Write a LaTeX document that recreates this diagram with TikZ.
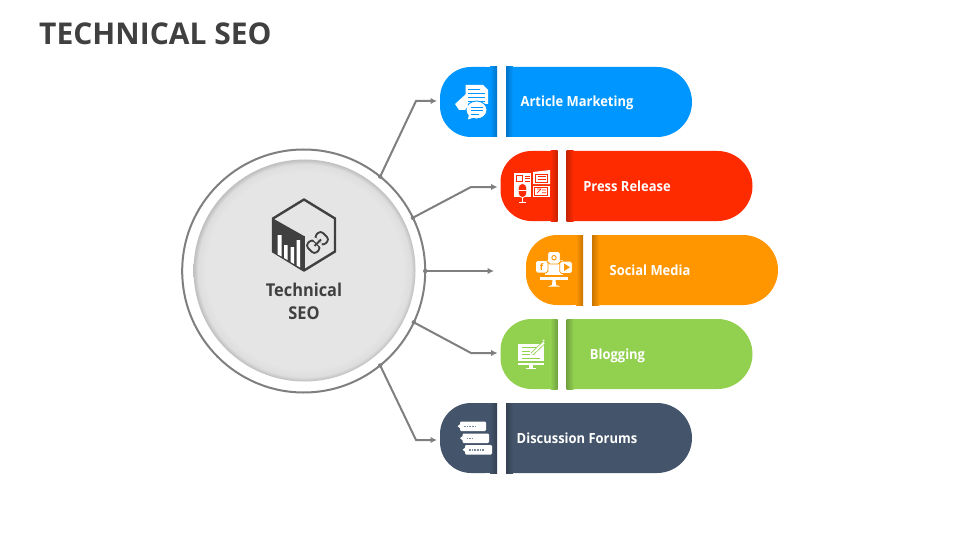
\documentclass[tikz,border=0pt]{standalone}
\usepackage{fontspec}
\setmainfont{Open Sans}
\newfontfamily\semib[FakeStretch=0.925]{Open Sans}
\usetikzlibrary{arrows.meta,calc}
\definecolor{cblue}{HTML}{0096FF}
\definecolor{cred}{HTML}{FF2B00}
\definecolor{corange}{HTML}{FF9600}
\definecolor{cgreen}{HTML}{92D050}
\definecolor{cslate}{HTML}{44546A}
\definecolor{ink}{HTML}{404040}
\definecolor{wire}{HTML}{7F7F7F}
\pgfdeclareradialshading{hubfill}{\pgfpoint{0bp}{0bp}}{%
  color(0bp)=(black!10); color(22bp)=(black!10); color(24bp)=(black!13); color(24.7bp)=(black!22); color(25bp)=(black!25); color(50bp)=(black!25)}
\tikzset{
  x=1pt,y=-1pt,
  anchorbox/.style={minimum width=#1,minimum height=70,inner sep=0,outer sep=0},
  label/.style={text=white,font=\semib\bfseries\fontsize{14}{17}\selectfont,inner sep=0,anchor=base},
  wireline/.style={draw=wire,line width=2,shorten >=3,-{Latex[length=6.5,width=6.5]}},
  dot/.style={fill=wire,draw=none},
  hubtext/.style={text=ink,font=\semib\bfseries\fontsize{17.7}{23}\selectfont,align=center,inner sep=0},
  wf/.style={fill=white,draw=none},
}
% #1 colour, #2 left, #3 top, #4 name, #5 label x, #6 label
\newcommand{\pillrow}[6]{%
  \pgfmathsetmacro{\xa}{#2+57}\pgfmathsetmacro{\xb}{#2+66}\pgfmathsetmacro{\xc}{#2+252}%
  \pgfmathsetmacro{\yb}{#3+70}%
  \fill[#1,rounded corners=35] (\xb-40,#3) -- (\xc,#3) -- (\xc,\yb) -- (\xb-40,\yb) -- cycle;
  \fill[white] (\xb-41,#3-1) rectangle (\xb,\yb+1);
  \fill[#1,rounded corners=31] (#2,#3) -- (\xa+20,#3) -- (\xa+20,\yb) -- (#2,\yb) -- cycle;
  \fill[white] (\xa,#3-1) rectangle (\xb,\yb+1);
  \shade[left color=#1,right color=#1!78!black] (\xa-7,#3) rectangle (\xa,\yb);
  \shade[left color=#1!78!black,right color=#1] (\xb,#3) rectangle (\xb+7,\yb);
  \node[anchorbox=57,anchor=north west] (#4) at (#2,#3) {};
  \node[label] (#4t) at (#5,#3+40) {#6};
}
\begin{document}
\begin{tikzpicture}
\useasboundingbox (0,0) rectangle (960,540);
\fill[white] (0,0) rectangle (960,540);
\node[anchor=west,text=ink,font=\bfseries\fontsize{30}{36}\selectfont,inner sep=0] (title) at (39,34) {TECHNICAL SEO};

% hub
\node[circle,minimum size=243,draw=wire,line width=2,inner sep=0,outer sep=0] (hub) at (303.7,271) {};
\node[circle,minimum size=222,shading=hubfill,inner sep=0] (core) at (304.5,270.5) {};
\node[hubtext] (hubt) at (304,301.5) {Technical\\SEO};

% cube icon
\coordinate (cT) at (304,199.5);\coordinate (cUR) at (335,218.5);\coordinate (cLR) at (335,251.5);
\coordinate (cB) at (304,270.5);\coordinate (cLL) at (273,251.5);\coordinate (cUL) at (273,218.5);\coordinate (cC) at (304,236);
\fill[ink] (cUL) -- (cC) -- (cB) -- (cLL) -- cycle;
\draw[ink,line width=2.4,line join=round] (cT) -- (cUR) -- (cLR) -- (cB) -- (cLL) -- (cUL) -- cycle;
\draw[ink,line width=2] (cC) -- (cB);
\fill[white] (277.7,235) -- (281.7,235) -- (281.7,256.5) -- (277.7,254.5) -- cycle;
\fill[white] (284,245) -- (287.5,245) -- (287.5,260) -- (284,258) -- cycle;
\fill[white] (290.7,247) -- (294,247) -- (294,264) -- (290.7,262) -- cycle;
\fill[white] (296.7,240) -- (300,240) -- (300,267.5) -- (296.7,265.5) -- cycle;
\draw[ink,line width=1.8,rounded corners=3.6] (320.5,230.5) -- (329.5,239.5) -- (323,246) -- (314,237) -- cycle;
\draw[ink,line width=1.8,rounded corners=3.6] (312,239) -- (321,248) -- (314.5,254.5) -- (305.5,245.5) -- cycle;
\fill[black!10] (315.8,237.5) -- (322.2,244) -- (319.8,246.4) -- (313.4,239.9) -- cycle;
\draw[ink,line width=1.8] (321,239.5) -- (314.5,246);

% rows
\pillrow{cblue}{440}{67}{pa}{577}{Article Marketing}
\pillrow{cred}{500.5}{151}{pb}{627}{Press Release}
\pillrow{corange}{526}{235}{pc}{650}{Social Media}
\pillrow{cgreen}{500.5}{319}{pd}{617.5}{Blogging}
\pillrow{cslate}{440}{403}{pe}{577}{Discussion Forums}

% connectors
\coordinate (ba) at (416,101);\coordinate (bb) at (471,187);\coordinate (bd) at (471,353);\coordinate (be) at (416,440);
\coordinate (freec) at (494,271);
\draw[wireline] (hub.51) -- (ba) -- (pa.west |- ba);
\draw[wireline] (hub.26) -- (bb) -- (pb.west |- bb);
\draw[wireline,shorten >=0] (hub.0) -- (freec);
\draw[wireline] (hub.-25) -- (bd) -- (pd.west |- bd);
\draw[wireline] (hub.-51) -- (be) -- (pe.west |- be);
\foreach \a in {51,26,0,-25,-51} \fill[dot] (hub.\a) circle[radius=2.2];

% article icon
\fill[wf] (465.5,85) -- (483,85) -- (488,90) -- (488,104) -- (465.5,104) -- cycle;
\draw[cblue,line width=.9] (468,89) -- (480,89) (468,93) -- (485,93) (468,97) -- (485,97) (468,101) -- (485,101);
\draw[wf,draw=cblue,line width=.9] (476.5,110) ellipse[x radius=10.5,y radius=9];
\fill[wf] (469,114) -- (468,119.5) -- (475,117) -- cycle;
\draw[cblue,line width=.9] (471,107) -- (483,107) (471,110.5) -- (483,110.5) (471,114) -- (479,114);
\fill[wf,line join=round] (455,104) -- (466,94) -- (468,106) -- (465,110) -- (459,110) -- cycle;

% press icon
\fill[wf] (514,173) rectangle (531,197);
\fill[wf] (533,172) -- (550,170) -- (550,184) -- (533,184) -- cycle;
\fill[wf] (532.5,185.5) rectangle (550,197);
\draw[cred,line width=.7] (516.5,175.5) rectangle (522.5,181.5) (524.5,176) -- (529.5,176) (524.5,178.5) -- (529.5,178.5) (524.5,181) -- (529.5,181)
 (535.5,174.5) rectangle (547.5,182) (537.5,176.8) -- (545.5,176.8) (537.5,179.5) -- (545.5,179.5)
 (534.7,187.5) rectangle (547.8,195);
\draw[cred,line width=.7] (537,193) -- (541,189) (537,189) -- (541,189) (542,190) -- (546,190) (542,192.8) -- (546,192.8);
\draw[white,fill=cred,line width=.8,rounded corners=4] (518.3,183.5) rectangle (526.7,197.5);
\draw[white,line width=.8] (522.5,197.5) -- (522.5,202) (519,202) -- (526,202);
\draw[white,line width=.6] (518.5,190) -- (526.5,190);

% social icon
\fill[wf] (545,260) rectangle (563,275);
\fill[wf] (540,277) rectangle (568,280);
\fill[wf] (552.5,280) -- (555.5,280) -- (556,285) -- (560,286.5) -- (548,286.5) -- (552,285) -- cycle;
\foreach \cx/\cy in {541.7/266.7,554/257.7,566/267.3}
  \draw[wf,draw=corange,line width=.8,rounded corners=1.8] (\cx-6.2,\cy-6.2) rectangle (\cx+6.2,\cy+6.2);
\draw[corange,line width=.9] (554,257.7) circle[radius=2.2];
\fill[corange] (564,263.5) -- (570,267.3) -- (564,271) -- cycle;
\node[text=corange,inner sep=0,font=\bfseries\fontsize{9}{9}\selectfont] (fglyph) at (541.7,266.7) {f};

% blog icon
\fill[wf] (518,344) rectangle (544,361);
\fill[wf] (518,362.5) rectangle (544,364.5);
\fill[wf] (529,364.5) rectangle (533,367.5);
\fill[wf] (526,367.5) rectangle (536,368.5);
\draw[cgreen,line width=.9] (522,347.5) -- (536,347.5) (522,351) -- (530,351) (522,354.5) -- (530,354.5) (522,358) -- (540,358);
\draw[cgreen,line width=3.6] (532,354) -- (545,341.5);
\draw[white,line width=1.9] (532,354) -- (544,342.5);
\fill[white] (543.5,340.5) circle[radius=1];

% forum icon
\foreach \xa/\xb/\ya/\n in {460/486/421.5/5,462.5/489/433.5/3,465/492/445/6}{
  \fill[wf,rounded corners=1.2] (\xa,\ya) rectangle (\xb,\ya+9.5);
  \fill[wf] (\xa-2.5,\ya+4.7) -- (\xa+1,\ya+2) -- (\xa+1,\ya+7.5) -- cycle;
  \foreach \i in {1,...,\n} \fill[cslate!70] (\xa+1.5+\i*2.6,\ya+4) rectangle +(1.6,1.6);
}
\end{tikzpicture}
\end{document}
